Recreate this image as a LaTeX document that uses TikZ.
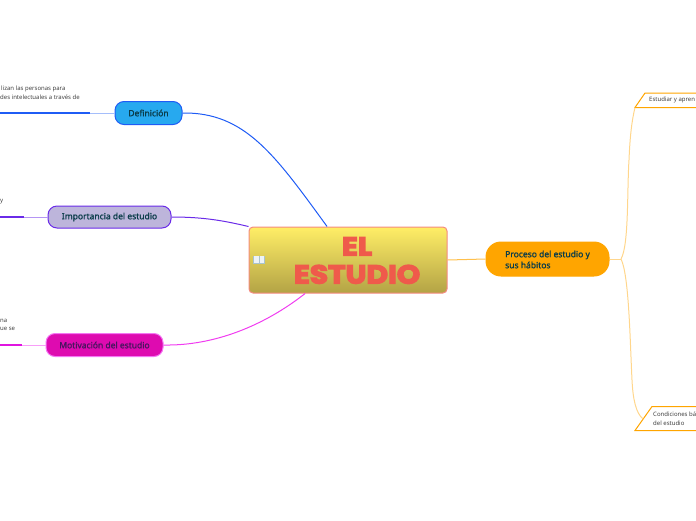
\documentclass[tikz,border=0pt]{standalone}
\usepackage{fontspec}
\setmainfont{Noto Sans}
\newfontfamily\topicfont[FakeBold=1.3]{Noto Sans}
\newfontfamily\titlefont[FakeBold=5,FakeStretch=1.14]{Poppins Bold}
\definecolor{esTitle}{HTML}{EF5A4B}
\definecolor{esEdge}{HTML}{F58A80}
\definecolor{esTop}{HTML}{FFEE66}
\definecolor{esBottom}{HTML}{B3A345}
\definecolor{esBlue}{HTML}{1F5CF5}
\definecolor{esSky}{HTML}{27A9EF}
\definecolor{esPurple}{HTML}{6A2BE8}
\definecolor{esLilac}{HTML}{BDB5DB}
\definecolor{esPink}{HTML}{F03CF0}
\definecolor{esMagenta}{HTML}{DE0BB0}
\definecolor{esBar}{HTML}{E015E0}
\definecolor{esOrange}{HTML}{FFA500}
\definecolor{esInk}{HTML}{0B3D4A}
\definecolor{esPlum}{HTML}{4A1560}
\definecolor{esPage}{HTML}{EEF4F6}
\definecolor{esCover}{HTML}{A9C3CC}
\usetikzlibrary{calc,positioning}
\tikzset{
  topicbox/.style={draw, line width=1pt, rounded corners=9pt, font=\topicfont\fontsize{8.5}{11}\selectfont, text=esInk, inner sep=0pt},
  leaftext/.style={anchor=west, font=\fontsize{6}{9.5}\selectfont, text=black!75, align=left, inner sep=0pt},
  thinlink/.style={line width=1pt},
  barlink/.style={line width=1.6pt},
  leafshape/.style={draw=esOrange, fill=white, line width=1pt, line join=miter}
}

\begin{document}
\begin{tikzpicture}[x=1pt,y=-1pt]
  \useasboundingbox (0,0) rectangle (696,520);

  % central topic
  \node[draw=esEdge, line width=1pt, rounded corners=4pt, top color=esTop, bottom color=esBottom,
    minimum width=198pt, minimum height=66pt, inner sep=0pt] (central) at (348,260) {};
  \node[font=\titlefont\fontsize{26}{28}\selectfont, text=esTitle, align=center] (title) at (357,260.5) {EL\\ESTUDIO};
  \node[inner sep=0pt, minimum width=12pt, minimum height=8pt] (book) at (259,260) {};
  \fill[esCover] (book.north west) rectangle (book.south east);
  \fill[esPage] ($(book.north west)+(1,0.5)$) rectangle ($(book.south)+(-0.5,-1.5)$);
  \fill[esPage] ($(book.north)+(0.5,0.5)$) rectangle ($(book.south east)+(-1,-1.5)$);

  % main topics
  \node[topicbox, draw=esBlue, fill=esSky, minimum width=67pt, minimum height=23pt] (defin) at (148.5,113) {Definición};
  \node[topicbox, draw=esPurple, fill=esLilac, minimum width=123pt, minimum height=22pt] (impor) at (109.5,217) {Importancia del estudio};
  \node[topicbox, draw=esPink!70!white, fill=esMagenta, text=esPlum, minimum width=117pt, minimum height=23pt] (motiv) at (104.5,345) {Motivación del estudio};
  \node[topicbox, draw=esOrange, fill=esOrange, rounded corners=15pt, minimum width=123pt, minimum height=34pt] (proce) at (547.5,259) {};
  \node[leaftext, font=\topicfont\fontsize{8.5}{11}\selectfont, text=esInk] (procetext) at (505,259.5) {Proceso del estudio y\\sus hábitos};

  % clipped texts on the left
  \node[leaftext] (defintext) at (0,92.5) {\hspace*{1pt}lizan las personas para\\des intelectuales a través de};
  \node[leaftext] (importext) at (0,202) {y};
  \node[leaftext, font=\fontsize{6}{8.5}\selectfont] (motivtext) at (0,325) {na\\ue se};

  % free ends of the left branches
  \coordinate (definbar) at (90,113);
  \coordinate (definend) at (0,113);
  \coordinate (imporbar) at (24,217);
  \coordinate (imporend) at (0,217);
  \coordinate (motivbar) at (22,345);
  \coordinate (motivend) at (0,345);
  \draw[esBlue, barlink] (definend) -- (definbar);
  \draw[esBlue!40, thinlink] (definbar) -- (defin);
  \draw[esPurple, barlink] (imporend) -- (imporbar);
  \draw[esPurple!50, thinlink] (imporbar) -- (impor);
  \draw[esBar, barlink] (motivend) -- (motivbar);
  \draw[esPink!50, thinlink] (motivbar) -- (motiv);

  % links to the centre
  \draw[esBlue, thinlink] (defin.east) .. controls (245,112) and (275,155) .. (central.122.5);
  \draw[esPurple, thinlink] (impor.east) .. controls (205,217) and (225,221) .. (central.north west);
  \draw[esPink, thinlink] (motiv.east) .. controls (215,346) and (265,325) .. (central.218.8);
  \draw[esOrange!70, thinlink] (central.east) -- (proce.west);

  % right leaves
  \draw[leafshape] (700,93) -- (645,93) -- (635,107.5) -- (700,107.5);
  \node[leaftext] (leafone) at (649,100) {Estudiar y apren};
  \draw[leafshape] (700,406.5) -- (652,406.5) -- (635,430.5) -- (700,430.5);
  \node[leaftext] (leaftwo) at (653,418.5) {Condiciones bá\\del estudio};
  \coordinate (fork) at (621,259);
  \coordinate (leafoneend) at (635,107.5);
  \coordinate (leaftwoend) at (643,419);
  \draw[esOrange!45, thinlink] (proce.east) -- (fork);
  \draw[esOrange!45, thinlink] (fork) .. controls (629,245) and (627,190) .. (629,160) .. controls (630,135) and (632,120) .. (leafoneend);
  \draw[esOrange!45, thinlink] (fork) .. controls (629,275) and (630,340) .. (632,380) .. controls (633,400) and (636,413) .. (leaftwoend);
\end{tikzpicture}
\end{document}
